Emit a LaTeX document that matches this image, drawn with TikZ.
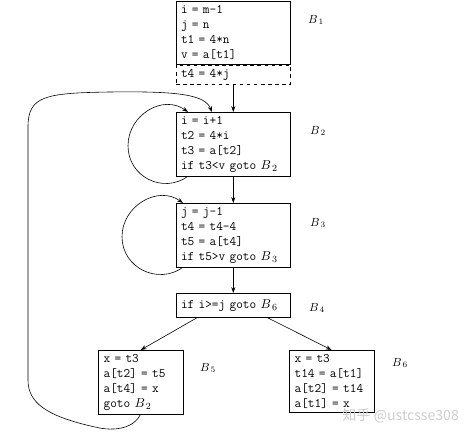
\documentclass[tikz,border=0pt]{standalone}
\usepackage{fontspec}
\newfontfamily\cjkfont{Noto Sans CJK SC}
\usetikzlibrary{arrows.meta, positioning, calc}
\definecolor{wmgray}{RGB}{205,205,205}
\tikzset{
  block/.style={rectangle, draw, line width=0.5pt, anchor=north west, align=left, font=\ttfamily\fontsize{11}{12.7}\selectfont, text width=88.9pt, inner xsep=4pt, minimum height=51.9pt},
  smallblock/.style={block, text width=63pt, inner xsep=4.5pt},
  dashblock/.style={block, dashed, minimum height=16.2pt, inner ysep=1pt},
  blabel/.style={font=\normalsize},
  arrow/.style={-{Stealth[length=5pt, width=3.5pt]}, line width=0.5pt}
}

\begin{document}
\begin{tikzpicture}[x=0.85pt, y=-0.85pt]
  \useasboundingbox (0,0) rectangle (474,435);

  % Blocks
  \node[block, minimum height=53.6pt] (b1) at (176,1) {i = m-1\\ j = n\\ t1 = 4*n\\ v = a[t1]};
  \node[dashblock, anchor=north, below=0pt of b1] (b1t4) {t4 = 4*j};
  \node[block] (b2) at (176,112) {i = i+1\\ t2 = 4*i\\ t3 = a[t2]\\ if t3<v goto $B_{\,2}$};
  \node[block] (b3) at (176,203) {j = j-1\\ t4 = t4-4\\ t5 = a[t4]\\ if t5>v goto $B_{\,3}$};
  \node[block, minimum height=20.4pt] (b4) at (176,293) {if i>=j goto $B_{\,6}$};
  \node[smallblock] (b5) at (98,350) {x = t3\\ a[t2] = t5\\ a[t4] = x\\ goto $B_{\,2}$};
  \node[smallblock] (b6) at (289,350) {x = t3\\ t14 = a[t1]\\ a[t2] = t14\\ a[t1] = x};

  % Block names
  \node[blabel] (lb1) at (316,20) {$B_{\,1}$};
  \node[blabel] (lb2) at (318,131) {$B_{\,2}$};
  \node[blabel] (lb3) at (318,223) {$B_{\,3}$};
  \node[blabel] (lb4) at (317,308) {$B_{\,4}$};
  \node[blabel] (lb5) at (208,368) {$B_{\,5}$};
  \node[blabel] (lb6) at (400,363) {$B_{\,6}$};

  % Straight edges
  \draw[arrow] (b1t4.south) -- (b2.north);
  \draw[arrow] (b2.south) -- (b3.north);
  \draw[arrow] (b3.south) -- (b4.north);
  \draw[arrow] ($(b4.south)+(-36,0)$) -- (b5.north);
  \draw[arrow] ($(b4.south)+(34,0)$) -- (b6.north);

  % Self loops
  \draw[arrow] ($(b2.south west)+(12,0)$) .. controls +(-25,18) and +(0,31) .. ++(-60,-30.5)
    .. controls +(0,-31) and +(-25,-18) .. ($(b2.north west)+(12,0)$);
  \draw[arrow] ($(b3.south west)+(7,0)$) .. controls +(-25,18) and +(0,31) .. ++(-61,-30.5)
    .. controls +(0,-31) and +(-25,-18) .. ($(b3.north west)+(7,0)$);

  % Back edge B5 -> B2
  \draw[arrow] (b5.south) .. controls (134,428) and (115,432) .. (95,427)
    .. controls (45,416) and (28,402) .. (28,380) -- (28,127)
    .. controls (28,96) and (45,93) .. (110,92)
    .. controls (180,91) and (205,95) .. ($(b2.north west)+(36,0)$);

  % Watermark
  \node[text=wmgray, font=\cjkfont\large, anchor=east] (wm) at (463,416) {知乎 @ustcsse308};
\end{tikzpicture}
\end{document}
